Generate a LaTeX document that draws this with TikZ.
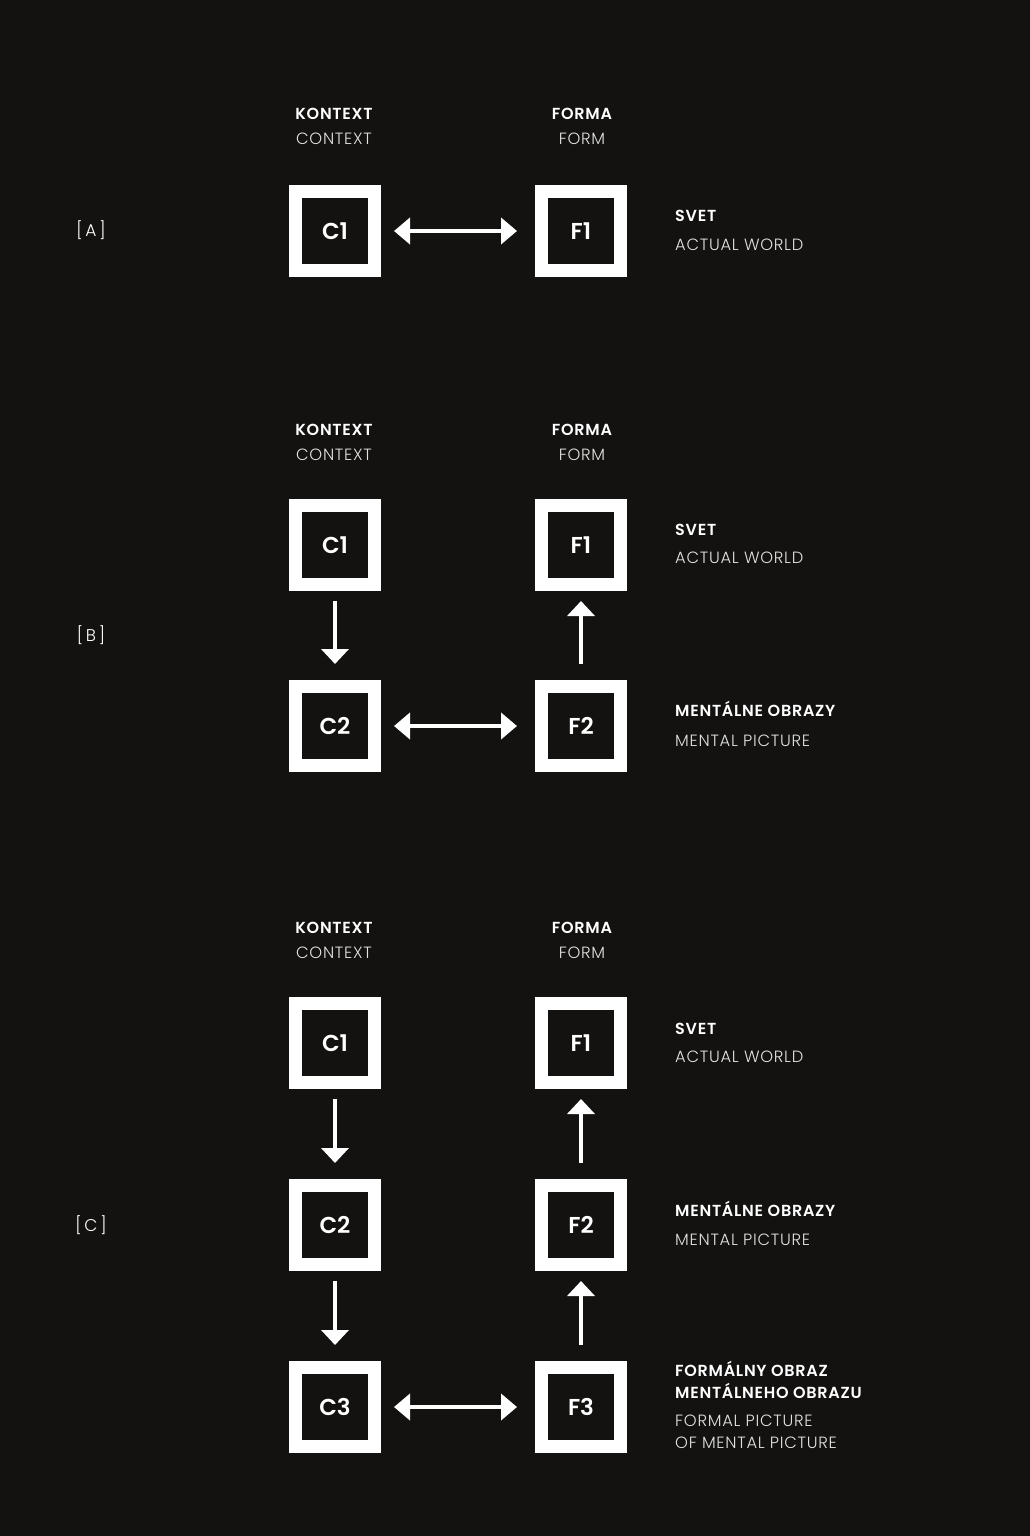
\documentclass[tikz,border=0pt]{standalone}
\usepackage{fontspec}
\setmainfont{Poppins}
\newfontfamily\fbold{Poppins SemiBold}[LetterSpace=4.5]
\newfontfamily\fboxlbl{Poppins SemiBold}
\newfontfamily\flight{Poppins Light}[LetterSpace=4.5]
\usetikzlibrary{arrows.meta}
\definecolor{bg}{HTML}{131211}
\definecolor{fg}{HTML}{FFFFFF}
\definecolor{lt}{HTML}{E2E2E2}
\tikzset{
  x=1pt, y=-1pt,
  sq/.style={draw=fg, line width=13pt, minimum size=79pt, inner sep=0pt, fill=bg,
    text=fg, font=\fboxlbl\fontsize{23}{23}\selectfont},
  hd/.style={text=fg, font=\fbold\fontsize{16}{16}\selectfont, inner sep=0pt},
  sub/.style={text=lt, font=\flight\fontsize{16.3}{16.3}\selectfont, inner sep=0pt},
  rhd/.style={hd, anchor=base west},
  rsub/.style={sub, anchor=base west},
  sec/.style={text=fg, font=\flight\fontsize{17}{17}\selectfont, inner sep=0pt},
  arr/.style={draw=fg, line width=4.5pt, {Triangle[width=26pt,length=16pt]}-{Triangle[width=26pt,length=16pt]}},
  arrv/.style={draw=fg, line width=4.5pt, -{Triangle[width=27pt,length=15pt]}},
}
\begin{document}
\begin{tikzpicture}
\fill[bg] (0,0) rectangle (1030,1536);
\useasboundingbox (0,0) rectangle (1030,1536);

% ---------- A ----------
\node[hd]  (kA) at (334,114) {KONTEXT};
\node[sub] (cA) at (334,139) {CONTEXT};
\node[hd]  (fA) at (582,114) {FORMA};
\node[sub] (foA) at (582,139) {FORM};
\node[sec] (secA) at (91,230) {[\,A\,]};
\node[sq] (AC1) at (335,231) {C1};
\node[sq] (AF1) at (581,231) {F1};
\draw[arr] ([xshift=13pt]AC1.east) -- ([xshift=-18pt]AF1.west);
\node[rhd]  (sA1) at (675,221) {SVET};
\node[rsub] (aA1) at (675,250) {ACTUAL WORLD};

% ---------- B ----------
\node[hd]  (kB) at (334,430) {KONTEXT};
\node[sub] (cB) at (334,455) {CONTEXT};
\node[hd]  (fB) at (582,430) {FORMA};
\node[sub] (foB) at (582,455) {FORM};
\node[sec] (secB) at (91,635) {[\,B\,]};
\node[sq] (BC1) at (335,545) {C1};
\node[sq] (BF1) at (581,545) {F1};
\node[sq] (BC2) at (335,726) {C2};
\node[sq] (BF2) at (581,726) {F2};
\draw[arrv] ([yshift=-10pt]BC1.south) -- ([yshift=16pt]BC2.north);
\draw[arrv] ([yshift=16pt]BF2.north) -- ([yshift=-10pt]BF1.south);
\draw[arr] ([xshift=13pt]BC2.east) -- ([xshift=-18pt]BF2.west);
\node[rhd]  (sB1) at (675,535) {SVET};
\node[rsub] (aB1) at (675,563) {ACTUAL WORLD};
\node[rhd]  (sB2) at (675,716) {MENTÁLNE OBRAZY};
\node[rsub] (aB2) at (675,746) {MENTAL PICTURE};

% ---------- C ----------
\node[hd]  (kC) at (334,928) {KONTEXT};
\node[sub] (cC) at (334,953) {CONTEXT};
\node[hd]  (fC) at (582,928) {FORMA};
\node[sub] (foC) at (582,953) {FORM};
\node[sec] (secC) at (91,1225) {[\,C\,]};
\node[sq] (CC1) at (335,1043) {C1};
\node[sq] (CF1) at (581,1043) {F1};
\node[sq] (CC2) at (335,1225) {C2};
\node[sq] (CF2) at (581,1225) {F2};
\node[sq] (CC3) at (335,1407) {C3};
\node[sq] (CF3) at (581,1407) {F3};
\draw[arrv] ([yshift=-10pt]CC1.south) -- ([yshift=16pt]CC2.north);
\draw[arrv] ([yshift=-10pt]CC2.south) -- ([yshift=16pt]CC3.north);
\draw[arrv] ([yshift=16pt]CF2.north) -- ([yshift=-10pt]CF1.south);
\draw[arrv] ([yshift=16pt]CF3.north) -- ([yshift=-10pt]CF2.south);
\draw[arr] ([xshift=13pt]CC3.east) -- ([xshift=-18pt]CF3.west);
\node[rhd]  (sC1) at (675,1034) {SVET};
\node[rsub] (aC1) at (675,1062) {ACTUAL WORLD};
\node[rhd]  (sC2) at (675,1216) {MENTÁLNE OBRAZY};
\node[rsub] (aC2) at (675,1245) {MENTAL PICTURE};
\node[rhd]  (sC3a) at (675,1376) {FORMÁLNY OBRAZ};
\node[rhd]  (sC3b) at (675,1398) {MENTÁLNEHO OBRAZU};
\node[rsub] (aC3a) at (675,1426) {FORMAL PICTURE};
\node[rsub] (aC3b) at (675,1448) {OF MENTAL PICTURE};
\end{tikzpicture}
\end{document}
